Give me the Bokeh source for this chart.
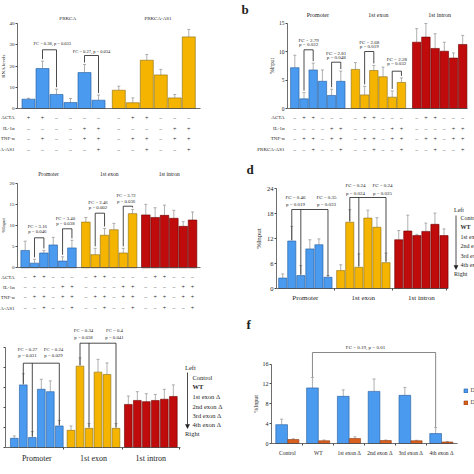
from bokeh.plotting import figure
from bokeh.layouts import gridplot
from bokeh.models import (Range1d, ColumnDataSource, Whisker, TeeHead, Arrow,
                          NormalHead, FixedTicker, Legend, LegendItem)
from bokeh.core.properties import value
from bokeh.embed import file_html
from bokeh.resources import INLINE

FONT = "Liberation Serif"
INK = "#1e1e1e"
AXIS = "#4a4a4a"
BLUE, BLUE_EDGE = "#4A9BEF", "#23599A"
YELLOW, YELLOW_EDGE = "#F5B400", "#8A6B12"
RED, RED_EDGE = "#BF0B0B", "#6A0000"
ORANGE, ORANGE_EDGE = "#D9601E", "#8E3A10"
ERR = "#9C9C9C"

# ---------------- data ----------------
# a: RNA levels
A_GROUPS = ["PRKCA", "PRKCA-AS1"]
A_PRKCA = [4.4, 18.8, 6.6, 2.8, 16.9, 3.9]
A_PRKCA_ERR = [0.4, 3.5, 2.5, 1.9, 3.8, 2.4]
A_AS1 = [8.6, 2.7, 22.7, 15.8, 5.0, 33.7]
A_AS1_ERR = [1.9, 2.3, 2.7, 2.6, 1.6, 3.5]
A_FC = ["FC = 0.38, p = 0.033", "FC = 0.27, p = 0.034"]
A_SIGNS = [
    ["+", "+", "−", "−", "−", "−", "−", "+", "+", "−", "−", "−"],
    ["−", "−", "−", "−", "+", "+", "−", "−", "−", "−", "+", "+"],
    ["−", "+", "−", "−", "+", "+", "−", "+", "+", "−", "+", "+"],
    ["−", "−", "−", "−", "−", "+", "−", "−", "+", "−", "−", "+"],
]

REGIONS = ["Promoter", "1st exon", "1st intron"]
TREATMENTS = ["ACTA", "IL-1α", "TNF-α", "PRKCA-AS1"]
SIGNS = [
    ["−", "+", "+", "−", "−", "−"],
    ["−", "−", "−", "−", "+", "+"],
    ["−", "+", "+", "−", "+", "+"],
    ["−", "−", "+", "−", "−", "+"],
]

# b: ChIP %Input
B_PROMOTER = [7.2, 1.7, 6.8, 4.8, 2.3, 4.8]
B_PROMOTER_ERR = [2.2, 1.1, 1.2, 2.0, 1.1, 1.8]
B_EXON = [6.9, 2.4, 6.7, 5.6, 2.0, 4.6]
B_EXON_ERR = [1.2, 1.5, 0.9, 1.7, 1.1, 0.8]
B_INTRON = [11.7, 12.6, 10.6, 10.1, 8.9, 11.3]
B_INTRON_ERR = [2.4, 2.4, 2.6, 1.6, 0.9, 1.6]
B_FC = [["FC = 2.79", "p = 0.022"], ["FC = 2.81", "p = 0.048"],
        ["FC = 2.68", "p = 0.019"], ["FC = 2.28", "p = 0.032"]]

# c: ChIP %Input
C_PROMOTER = [4.1, 1.1, 3.5, 5.4, 1.6, 4.7]
C_PROMOTER_ERR = [2.2, 0.9, 0.6, 1.8, 1.0, 1.8]
C_EXON = [10.8, 3.1, 7.7, 9.0, 3.5, 12.8]
C_EXON_ERR = [1.1, 1.5, 1.6, 1.5, 1.1, 1.0]
C_INTRON = [12.5, 11.9, 12.4, 11.7, 9.8, 11.3]
C_INTRON_ERR = [2.5, 2.3, 2.4, 1.9, 1.1, 1.9]
C_FC = [["FC = 3.16", "p = 0.046"], ["FC = 3.40", "p = 0.038"],
        ["FC = 2.46", "p = 0.002"], ["FC = 3.72", "p = 0.036"]]

CONSTRUCTS = ["Control", "WT", "1st exon Δ", "2nd exon Δ", "3rd exon Δ", "4th exon Δ"]

# d: deletion constructs
D_PROMOTER = [2.5, 11.4, 3.1, 9.5, 10.5, 2.7]
D_PROMOTER_ERR = [1.0, 3.5, 2.4, 2.2, 1.4, 0.4]
D_EXON = [4.3, 15.9, 5.1, 16.9, 14.7, 6.2]
D_EXON_ERR = [1.4, 3.0, 3.2, 1.9, 2.3, 2.3]
D_INTRON = [11.7, 13.8, 12.7, 13.7, 15.4, 12.7]
D_INTRON_ERR = [2.2, 3.8, 0.3, 2.0, 2.7, 1.6]
D_FC = [["FC = 0.46", "p = 0.019"], ["FC = 0.35", "p = 0.033"],
        ["FC = 0.24", "p = 0.024"], ["FC = 0.24", "p = 0.025"]]

# e: deletion constructs
E_PROMOTER = [2.3, 15.7, 2.5, 14.6, 14.0, 5.4]
E_PROMOTER_ERR = [0.6, 2.8, 1.5, 2.5, 2.7, 1.4]
E_EXON = [4.3, 20.4, 4.8, 18.9, 18.3, 4.8]
E_EXON_ERR = [1.1, 2.1, 1.2, 3.2, 2.9, 1.2]
E_INTRON = [10.8, 11.8, 11.5, 11.8, 12.1, 12.8]
E_INTRON_ERR = [2.1, 2.2, 2.0, 1.5, 2.5, 2.9]
E_FC = [["FC = 0.27", "p = 0.031"], ["FC = 0.24", "p = 0.029"],
        ["FC = 0.34", "p = 0.038"], ["FC = 0.4", "p = 0.041"]]

# f: two series per construct
F_SERIES = ["Dox+", "Dox−"]
F_BLUE = [3.8, 11.2, 9.5, 10.5, 9.7, 2.0]
F_BLUE_ERR = [1.1, 2.1, 1.3, 2.5, 1.6, 1.2]
F_ORANGE = [0.8, 0.55, 1.0, 0.6, 0.55, 0.3]
F_ORANGE_ERR = [0.15, 0.15, 0.35, 0.1, 0.1, 0.1]
F_FC = "FC = 0.19, p = 0.01"

ORDER = ["Left", "Control", "WT", "1st exon Δ", "2nd exon Δ", "3rd exon Δ", "4th exon Δ", "Right"]


# ---------------- helpers ----------------
def make_panel(w, h, x0, slot, y0, ppu):
    """Frame covers the whole figure; (x0, y0) is the pixel of x=0 / value 0."""
    p = figure(width=w, height=h, output_backend="svg", toolbar_location=None,
               x_range=Range1d(-x0 / slot, (w - x0) / slot),
               y_range=Range1d(-(h - y0) / ppu, y0 / ppu),
               min_border_left=0, min_border_right=0,
               min_border_top=0, min_border_bottom=0)
    p.outline_line_color = None
    p.xgrid.visible = False
    p.ygrid.visible = False

    def fx(v):
        return (v - x0) / slot

    def fy(v):
        return (y0 - v) / ppu
    return p, fx, fy


def style_y(p, at, ticks, label, tick_size="5px", label_size="5.5px", show=True):
    ax = p.yaxis[0]
    ax.fixed_location = at
    ax.ticker = FixedTicker(ticks=ticks)
    ax.bounds = (ticks[0], ticks[-1])
    ax.axis_line_color = AXIS
    ax.axis_line_width = 0.8
    ax.major_tick_line_color = AXIS
    ax.major_tick_out = 2
    ax.major_tick_in = 0
    ax.minor_tick_line_color = None
    ax.major_label_text_font = FONT
    ax.major_label_text_font_size = tick_size
    ax.major_label_text_color = INK
    ax.major_label_standoff = 1
    if not show:
        ax.major_label_overrides = {t: "" for t in ticks}
        ax.major_label_standoff = 0
    if label:
        ax.axis_label = label
        ax.axis_label_text_font = FONT
        ax.axis_label_text_font_size = label_size
        ax.axis_label_text_font_style = "normal"
        ax.axis_label_text_color = INK
        ax.axis_label_standoff = 1


def style_x(p, centers, names, bounds, size, standoff, minor=()):
    ax = p.xaxis[0]
    ax.fixed_location = 0
    ax.ticker = FixedTicker(ticks=centers, minor_ticks=list(minor))
    ax.major_label_overrides = dict(zip(centers, names))
    ax.bounds = bounds
    ax.axis_line_color = AXIS
    ax.axis_line_width = 0.8
    ax.major_tick_out = 0
    ax.major_tick_in = 0
    ax.minor_tick_line_color = AXIS
    ax.minor_tick_out = 2
    ax.minor_tick_in = 0
    ax.major_label_text_font = FONT
    ax.major_label_text_font_size = size
    ax.major_label_text_color = INK
    ax.major_label_standoff = standoff


def bars(p, xs, vals, errs, fill, edge, width, edge_w=0.6):
    src = ColumnDataSource(dict(x=xs, top=vals, up=[v + e for v, e in zip(vals, errs)]))
    r = p.vbar(x="x", top="top", bottom=0, width=width, source=src,
               fill_color=fill, line_color=edge, line_width=edge_w)
    p.add_layout(Whisker(source=src, base="x", upper="up", lower="top", dimension="height",
                         upper_head=TeeHead(size=3, line_color=ERR, line_width=0.8),
                         lower_head=None, line_color=ERR, line_width=0.8))
    return r


def slots(start, n=6, offset=0.5):
    return [start + i + offset for i in range(n)]


def txt(p, x, y, s, size, align="center", bold=False, baseline="middle"):
    p.text(x=[x], y=[y], text=[s], text_font=value(FONT), text_font_size=size,
           text_align=align, text_baseline=baseline, text_color=INK,
           text_font_style="bold" if bold else "normal")


def pair_bracket(p, xs, vals, errs, i, j, level, gap):
    p.line(x=[xs[i], xs[i], xs[j], xs[j]],
           y=[vals[i] + errs[i] + gap, level, level, vals[j] + errs[j] + gap],
           line_color=INK, line_width=0.8)


def span_bracket(p, xs, vals, legs, level, gap):
    p.line(x=[xs[legs[0]], xs[legs[-1]]], y=[level, level], line_color=INK, line_width=0.8)
    p.segment(x0=[xs[k] for k in legs], y0=[level] * len(legs),
              x1=[xs[k] for k in legs], y1=[vals[k] + gap for k in legs],
              line_color=INK, line_width=0.8)


def fc_lines(p, x, ys, lines, size):
    for y, s in zip(ys, lines):
        txt(p, x, y, s, size)


def sign_table(p, xs, rows, row_ys, size):
    for signs, y in zip(rows, row_ys):
        p.text(x=xs, y=[y] * len(xs), text=signs, text_font=value(FONT),
               text_font_size=size, text_align="center", text_baseline="middle",
               text_color=INK)


def order_key(p, fx, fy, arrow_x, key_x, left_x, rows, arrow_span, size):
    for i, (s, yy) in enumerate(zip(ORDER, rows)):
        edge = i == 0 or i == len(ORDER) - 1
        txt(p, fx(left_x if edge else key_x), fy(yy), s, size, align="left",
            bold=(s == "WT"))
    p.add_layout(Arrow(end=NormalHead(size=4, fill_color=INK, line_color=INK, line_width=0.5),
                       x_start=fx(arrow_x), y_start=fy(arrow_span[0]),
                       x_end=fx(arrow_x), y_end=fy(arrow_span[1]),
                       line_color=INK, line_width=0.8))


def baseline_axis(p, bounds):
    ax = p.xaxis[0]
    ax.fixed_location = 0
    ax.ticker = FixedTicker(ticks=[])
    ax.bounds = bounds
    ax.axis_line_color = AXIS
    ax.axis_line_width = 0.8


SIGN_SIZE = "6px"

# ---------------- a ----------------
pa, ax_, ay_ = make_panel(237, 158, 21, 14, 108, 2.125)
style_y(pa, ax_(17), [0, 10, 20, 30, 40], "RNA levels", "5px", "5px")
a_starts = [0, 6.45]
xa1, xa2 = slots(a_starts[0]), slots(a_starts[1])
bars(pa, xa1, A_PRKCA, A_PRKCA_ERR, BLUE, BLUE_EDGE, 0.93)
bars(pa, xa2, A_AS1, A_AS1_ERR, YELLOW, YELLOW_EDGE, 0.93)
baseline_axis(pa, (ax_(17), ax_(200)))
for s, name in zip(a_starts, A_GROUPS):
    txt(pa, s + 3.3, ay_(18), name, "5px")
gap_a = ay_(0) - ay_(2)
pair_bracket(pa, xa1, A_PRKCA, A_PRKCA_ERR, 1, 2, ay_(49.3), gap_a)
txt(pa, xa1[1] + 0.7, ay_(43.3), A_FC[0], "4.5px")
pair_bracket(pa, xa1, A_PRKCA, A_PRKCA_ERR, 4, 5, ay_(55), gap_a)
txt(pa, xa1[4] + 0.5, ay_(50.7), A_FC[1], "4.5px")
a_rows = [ay_(v) for v in (117, 128, 138, 149)]
sign_table(pa, xa1 + xa2, A_SIGNS, a_rows, SIGN_SIZE)
for name, y in zip(TREATMENTS, a_rows):
    txt(pa, ax_(14), y, name, "5px", align="right")

# ---------------- b ----------------
pb, bx_, by_ = make_panel(237, 158, 52.7, 9.2, 108, 5.667)
style_y(pb, bx_(50), [0, 5, 10, 15], "%Input", "5.5px", "5.5px")
b_starts = [0, 6.59, 13.25]
b_sets = [(B_PROMOTER, B_PROMOTER_ERR, BLUE, BLUE_EDGE),
          (B_EXON, B_EXON_ERR, YELLOW, YELLOW_EDGE),
          (B_INTRON, B_INTRON_ERR, RED, RED_EDGE)]
b_xs = []
for s, (v, e, f, ed) in zip(b_starts, b_sets):
    xs = slots(s)
    b_xs.append(xs)
    bars(pb, xs, v, e, f, ed, 0.92)
baseline_axis(pb, (bx_(50), bx_(230)))
for s, name in zip(b_starts, REGIONS):
    txt(pb, s + 3, by_(14), name, "6px")
gap_b = by_(0) - by_(2)
b_brackets = [(0, 1, 2, 49.3, (40, 44)), (0, 4, 5, 61.7, (52.7, 56.7)),
              (1, 1, 2, 51, (41.7, 45.7)), (1, 4, 5, 70.7, (59.3, 63.3))]
for (g, i, j, lvl, tys), lines in zip(b_brackets, B_FC):
    v, e = b_sets[g][0], b_sets[g][1]
    pair_bracket(pb, b_xs[g], v, e, i, j, by_(lvl), gap_b)
    fc_lines(pb, (b_xs[g][i] + b_xs[g][j]) / 2, [by_(t) for t in tys], lines, "5px")
b_rows = [by_(v) for v in (117, 128, 138, 149)]
sign_table(pb, b_xs[0] + b_xs[1] + b_xs[2], [r * 3 for r in SIGNS], b_rows, SIGN_SIZE)
for name, y in zip(TREATMENTS, b_rows):
    txt(pb, bx_(47), y, name, "5px", align="right")
txt(pb, bx_(4), by_(1), "b", "13px", align="left", bold=True, baseline="top")

# ---------------- c ----------------
pc, cx_, cy_ = make_panel(237, 152, 20, 9.35, 109.3, 4.23)
style_y(pc, cx_(17), [0, 5, 10, 15, 20], "%Input", "5px", "5px")
c_starts = [0, 6.49, 12.9]
c_sets = [(C_PROMOTER, C_PROMOTER_ERR, BLUE, BLUE_EDGE),
          (C_EXON, C_EXON_ERR, YELLOW, YELLOW_EDGE),
          (C_INTRON, C_INTRON_ERR, RED, RED_EDGE)]
c_xs = []
for s, (v, e, f, ed) in zip(c_starts, c_sets):
    xs = slots(s)
    c_xs.append(xs)
    bars(pc, xs, v, e, f, ed, 0.92)
baseline_axis(pc, (cx_(17), cx_(200)))
for s, name in zip(c_starts, REGIONS):
    txt(pc, s + 3, cy_(15.3), name, "5.5px")
gap_c = cy_(0) - cy_(2)
c_brackets = [(0, 1, 2, 79.3, (67.7, 72.7)), (0, 4, 5, 70.3, (60.3, 64.7)),
              (1, 1, 2, 54.7, (44.3, 49.3)), (1, 4, 5, 47.7, (37, 42.7))]
for (g, i, j, lvl, tys), lines in zip(c_brackets, C_FC):
    v, e = c_sets[g][0], c_sets[g][1]
    pair_bracket(pc, c_xs[g], v, e, i, j, cy_(lvl), gap_c)
    fc_lines(pc, (c_xs[g][i] + c_xs[g][j]) / 2 - 0.2, [cy_(t) for t in tys], lines, "4.8px")
c_rows = [cy_(v) for v in (118.7, 128.7, 138.7, 149.5)]
sign_table(pc, c_xs[0] + c_xs[1] + c_xs[2], [r * 3 for r in SIGNS], c_rows, SIGN_SIZE)
for name, y in zip(TREATMENTS, c_rows):
    txt(pc, cx_(14), y, name, "5px", align="right")

# ---------------- d ----------------
pd_, dx_, dy_ = make_panel(237, 152, 40.7, 9.05, 130, 100 / 24)
style_y(pd_, dx_(39), [0, 6, 12, 18, 24], "%Input", "6.5px", "7px")
d_starts = [0, 6.41, 12.82]
d_sets = [(D_PROMOTER, D_PROMOTER_ERR, BLUE, BLUE_EDGE),
          (D_EXON, D_EXON_ERR, YELLOW, YELLOW_EDGE),
          (D_INTRON, D_INTRON_ERR, RED, RED_EDGE)]
d_xs = []
for s, (v, e, f, ed) in zip(d_starts, d_sets):
    xs = slots(s)
    d_xs.append(xs)
    bars(pd_, xs, v, e, f, ed, 0.9)
style_x(pd_, [s + 3 for s in d_starts], REGIONS, (dx_(39), dx_(210)), "7px", 3,
        minor=[dx_(96.7), dx_(155), dx_(209)])
gap_d = dy_(0) - dy_(1)
for g, lvl, tys, cx, lines in [(0, 51, (39, 46), (58, 89), D_FC[0:2]),
                               (1, 39, (27, 35), (118, 145), D_FC[2:4])]:
    span_bracket(pd_, d_xs[g], d_sets[g][0], [1, 2, 5], dy_(lvl), gap_d)
    for x, ln in zip(cx, lines):
        fc_lines(pd_, dx_(x), [dy_(t) for t in tys], ln, "5px")
order_key(pd_, dx_, dy_, 218.5, 223, 216.5, [51, 59.3, 68, 78, 87, 97, 106, 115.3],
          (57, 111), "6px")
txt(pd_, dx_(9), dy_(3), "d", "13px", align="left", bold=True, baseline="top")

# ---------------- e ----------------
pe, ex_, ey_ = make_panel(237, 164, 9.3, 9.0, 137, 99.7 / 25)
style_y(pe, ex_(5), [0, 5, 10, 15, 20, 25], None, "5px", "5px", show=False)
e_starts = [0, 6.3, 12.67]
e_sets = [(E_PROMOTER, E_PROMOTER_ERR, BLUE, BLUE_EDGE),
          (E_EXON, E_EXON_ERR, YELLOW, YELLOW_EDGE),
          (E_INTRON, E_INTRON_ERR, RED, RED_EDGE)]
e_xs = []
for s, (v, e, f, ed) in zip(e_starts, e_sets):
    xs = slots(s)
    e_xs.append(xs)
    bars(pe, xs, v, e, f, ed, 0.86)
style_x(pe, [s + 3 for s in e_starts], REGIONS, (ex_(5), ex_(180)), "8px", 4,
        minor=[ex_(63), ex_(122), ex_(179)])
gap_e = ey_(0) - ey_(1)
for g, lvl, tys, cx, lines in [(0, 52.7, (39.3, 45), (27, 53), E_FC[0:2]),
                               (1, 32.7, (20, 27.3), (83, 114), E_FC[2:4])]:
    span_bracket(pe, e_xs[g], e_sets[g][0], [1, 2, 5], ey_(lvl), gap_e)
    for x, ln in zip(cx, lines):
        fc_lines(pe, ex_(x), [ey_(t) for t in tys], ln, "4.8px")
order_key(pe, ex_, ey_, 187, 192, 184.5, [57, 67, 76, 86, 95.5, 104.5, 114, 122.5],
          (62, 118), "6.5px")

# ---------------- f ----------------
pf, fx_, fy_ = make_panel(237, 164, 50, 30.8, 133, 79.4 / 16)
style_y(pf, fx_(34), [0, 4, 8, 12, 16], "%Input", "6px", "6px")
cat_x = list(range(len(CONSTRUCTS)))
xb = [c - 0.19 for c in cat_x]
xo = [c + 0.19 for c in cat_x]
rb = bars(pf, xb, F_BLUE, F_BLUE_ERR, BLUE, BLUE_EDGE, 0.38, 0.6)
ro = bars(pf, xo, F_ORANGE, F_ORANGE_ERR, ORANGE, ORANGE_EDGE, 0.36, 0.6)
style_x(pf, cat_x, CONSTRUCTS, (fx_(34), fx_(220)), "5.5px", 4,
        minor=[c + 0.5 for c in cat_x[:-1]])
gap_f = fy_(0) - fy_(0.5)
lvl_f = fy_(42)
pf.line(x=[xb[1], xb[1], xb[5], xb[5]],
        y=[F_BLUE[1] + F_BLUE_ERR[1] + gap_f, lvl_f, lvl_f, F_BLUE[5] + F_BLUE_ERR[5] + gap_f],
        line_color="#6a6a6a", line_width=0.8)
txt(pf, fx_(128), fy_(37), F_FC, "5px")
pf.add_layout(Legend(items=[LegendItem(label=F_SERIES[0], renderers=[rb]),
                            LegendItem(label=F_SERIES[1], renderers=[ro])],
                     location=(225.5, 68), glyph_width=5, glyph_height=5, label_height=8,
                     label_text_font=FONT, label_text_font_size="6px", label_standoff=3,
                     spacing=4, padding=0, margin=0, border_line_color=None,
                     background_fill_alpha=0))
txt(pf, fx_(9), fy_(6), "f", "13px", align="left", bold=True, baseline="top")

grid = gridplot([[pa, pb], [pc, pd_], [pe, pf]], toolbar_location=None)

open("out.html", "w").write(file_html(grid, INLINE))
